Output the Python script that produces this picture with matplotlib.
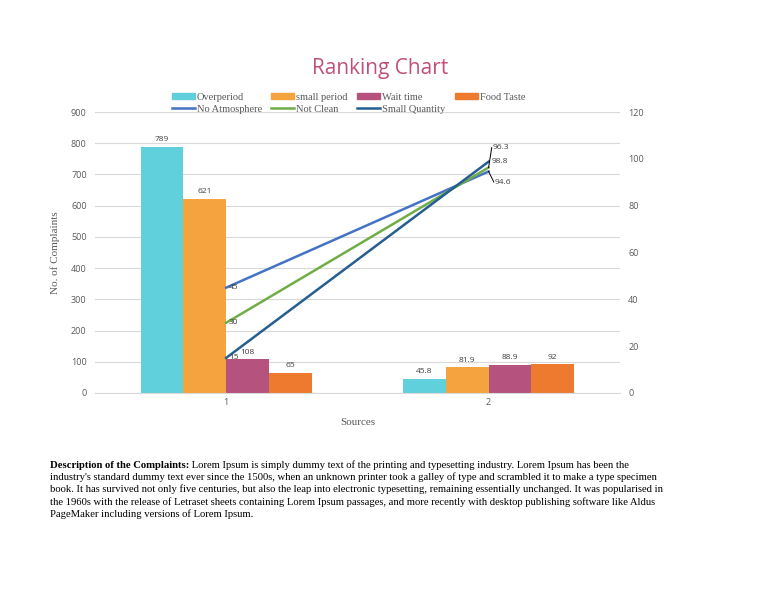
import numpy as np
import matplotlib.pyplot as plt
from matplotlib.patches import Patch
from matplotlib.lines import Line2D

sources = [1, 2]
bar_names = ['Overperiod', 'small period', 'Wait time', 'Food Taste']
bar_values = [[789, 45.8], [621, 81.9], [108, 88.9], [65, 92]]
bar_colors = ['#5fd0dc', '#f5a33f', '#b5527d', '#ed7a2f']

line_names = ['No Atmosphere', 'Not Clean', 'Small Quantity']
line_values = [[45, 94.6], [30, 96.3], [15, 98.8]]
line_colors = ['#4472c4', '#70ad47', '#255e91']

description_head = 'Description of the Complaints:'
description_lines = [
    " Lorem Ipsum is simply dummy text of the printing and typesetting industry. Lorem Ipsum has been the",
    "industry's standard dummy text ever since the 1500s, when an unknown printer took a galley of type and scrambled it to make a type specimen",
    "book. It has survived not only five centuries, but also the leap into electronic typesetting, remaining essentially unchanged. It was popularised in",
    "the 1960s with the release of Letraset sheets containing Lorem Ipsum passages, and more recently with desktop publishing software like Aldus",
    "PageMaker including versions of Lorem Ipsum.",
]

serif = 'Liberation Serif'
sans = 'Open Sans'
grey = '#595959'

fig = plt.figure(figsize=(7.68, 5.94), dpi=100)
ax = fig.add_axes([0.1237, 0.3384, 0.6833, 0.473])
ax2 = ax.twinx()

x = np.array(sources, dtype=float)
w = 0.163
for i, (name, vals, c) in enumerate(zip(bar_names, bar_values, bar_colors)):
    pos = x + (i - 1.5) * w
    ax.bar(pos, vals, width=w, color=c, zorder=2)
    for px, v in zip(pos, vals):
        ax.text(px, v + 12, f'{v:g}', ha='center', va='bottom', fontsize=6,
                family=sans, color='#404040')

for name, vals, c in zip(line_names, line_values, line_colors):
    ax2.plot(x, vals, color=c, lw=1.8, zorder=3)
    ax2.text(x[0] + 0.01, vals[0], f'{vals[0]:g}', ha='left', va='center',
             fontsize=6, family=sans, color='#404040')

# end labels with leader lines
end_offsets = {'No Atmosphere': (0.02, -4.5), 'Not Clean': (0.012, 8.5), 'Small Quantity': (0.008, 0)}
for name, vals in zip(line_names, line_values):
    dx, dy = end_offsets[name]
    tx, ty = x[1] + dx, vals[1] + dy
    if name != 'Small Quantity':
        ax2.plot([x[1], tx], [vals[1], ty], color='black', lw=0.7, zorder=4)
    ax2.text(tx + 0.004, ty, f'{vals[1]:g}', ha='left', va='center',
             fontsize=6, family=sans, color='#404040')

ax.set_xlim(0.5, 2.5)
ax.set_ylim(0, 900)
ax.set_yticks(range(0, 901, 100))
ax2.set_ylim(0, 120)
ax2.set_yticks(range(0, 121, 20))
ax.set_xticks(sources)
ax.set_xticklabels([str(s) for s in sources])
ax.grid(axis='y', color='#d9d9d9', lw=0.8, zorder=0)
ax.set_axisbelow(True)
for a in (ax, ax2):
    for s in a.spines.values():
        s.set_visible(False)
    a.tick_params(length=0, labelsize=6.5, labelcolor=grey)
    for lab in a.get_xticklabels() + a.get_yticklabels():
        lab.set_family(sans)
ax.spines['bottom'].set_visible(True)
ax.spines['bottom'].set_color('#d9d9d9')
ax.tick_params(axis='y', pad=6)
ax2.tick_params(axis='y', pad=6)

ax.set_ylabel('No. of Complaints', family=serif, fontsize=8, color=grey, labelpad=8)
ax.set_xlabel('Sources', family=serif, fontsize=8, color=grey, labelpad=8)

fig.text(0.495, 0.884, 'Ranking Chart', ha='center', va='center', fontsize=15,
         family=sans, color='#c0507a')

handles = [Patch(color=c) for c in bar_colors]
lhandles = [Line2D([0], [0], color=c, lw=1.8) for c in line_colors]
order_h = [handles[0], lhandles[0], handles[1], lhandles[1], handles[2], lhandles[2], handles[3]]
order_l = [bar_names[0], line_names[0], bar_names[1], line_names[1], bar_names[2], line_names[2], bar_names[3]]
fig.legend(order_h, order_l, ncol=4, loc='center', bbox_to_anchor=(0.454, 0.826),
           frameon=False, prop={'family': serif, 'size': 7.5}, labelcolor=grey,
           handlelength=2.2, handleheight=0.6, handletextpad=0.2, columnspacing=0.9,
           labelspacing=0.3, borderpad=0)

# description paragraph
renderer = fig.canvas.get_renderer()
y0 = 1 - 465 / 594
lh = 12.3 / 594
fs = 7.7
head = fig.text(50 / 768, y0, description_head, ha='left', va='center',
                fontsize=fs, family=serif, weight='bold', color='black')
bb = head.get_window_extent(renderer=renderer)
fig.text(bb.x1 / 768, y0, description_lines[0], ha='left', va='center',
         fontsize=fs, family=serif, color='black')
for i, line in enumerate(description_lines[1:], start=1):
    fig.text(50 / 768, y0 - i * lh, line, ha='left', va='center',
             fontsize=fs, family=serif, color='black')

fig.savefig('out.png', dpi=100)
